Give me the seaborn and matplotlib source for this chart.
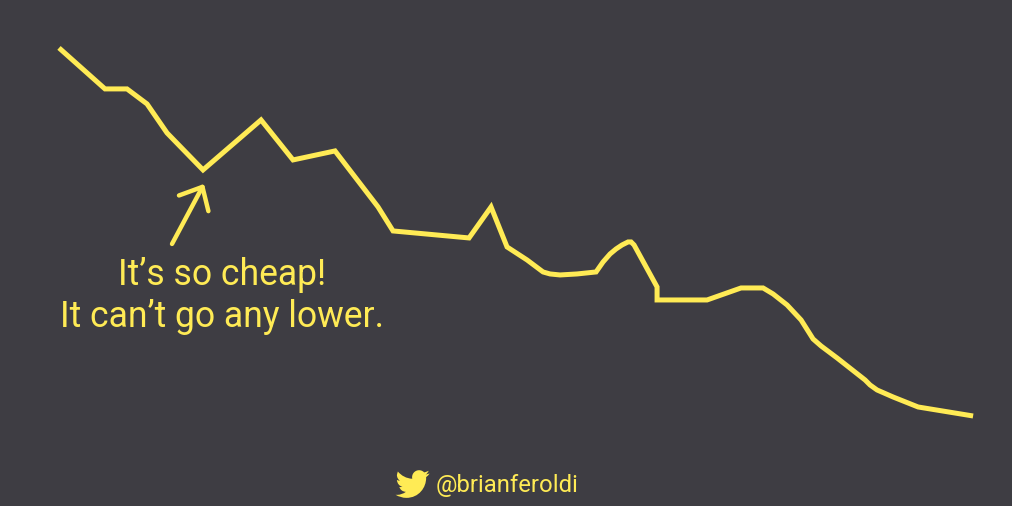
import matplotlib
matplotlib.use('Agg')
import matplotlib.pyplot as plt
from matplotlib.patches import PathPatch
from matplotlib.path import Path
import numpy as np
import pandas as pd
import seaborn as sns

# Values
day = [59, 105, 127, 147, 167, 203, 261, 293, 335, 378, 393, 469, 491, 507, 527,
       543, 550, 560, 577, 596, 603, 610, 616, 622, 628, 631, 634, 657, 657, 707,
       741, 763, 773, 787, 801, 813, 821, 837, 865, 870, 877, 893, 918, 973]
price = [48, 89, 89, 104, 133, 170, 120, 160, 151, 207, 231, 238, 207, 247, 260,
         272, 274, 275, 274, 272, 262, 254, 249, 245, 242, 242, 245, 287, 300, 300,
         288, 288, 294, 305, 320, 339, 346, 358, 380, 385, 390, 397, 407, 416]

BG = '#3e3d43'
YELLOW = '#ffeb55'

sns.set_theme(style='dark')
plt.rcParams['font.family'] = ['Roboto', 'DejaVu Sans']

df = pd.DataFrame({'day': day, 'price': price})

fig = plt.figure(figsize=(10.121, 5.061), dpi=100, facecolor=BG)
ax = fig.add_axes([0, 0, 1, 1])
ax.set_facecolor(BG)

sns.lineplot(data=df, x='day', y='price', sort=False, estimator=None, color=YELLOW,
             linewidth=3.6, solid_joinstyle='miter', solid_capstyle='butt', ax=ax)

ax.set_xlim(0, 1012)
ax.set_ylim(506, 0)
ax.axis('off')

# Arrow to the first dip
ax.annotate('', xy=(204, 184), xytext=(172, 244),
            arrowprops=dict(arrowstyle='->,head_length=1.34,head_width=1.2', color=YELLOW,
                            lw=3.2, mutation_scale=10, shrinkA=0, shrinkB=0))

ax.text(222, 275, 'It’s so cheap!', color=YELLOW, fontsize=25.6, ha='center', va='center')
ax.text(222, 317, 'It can’t go any lower.', color=YELLOW, fontsize=25.6, ha='center', va='center')
ax.text(436, 485, '@brianferoldi', color=YELLOW, fontsize=17.2, ha='left', va='center')

# Twitter bird, outline in a 24 unit box
M, L, C3, C4 = Path.MOVETO, Path.LINETO, Path.CURVE3, Path.CURVE4
bird = [((23.953, 4.57), M), ((21.128, 5.345), L),
        ((22.8, 4.4), C3), ((23.291, 2.622), C3),
        ((22.34, 3.177), C4), ((21.286, 3.581), C4), ((20.164, 3.806), C4)]
for a in np.radians(np.linspace(-43, -193, 16)[1:]):
    bird.append(((16.57 + 4.92 * np.cos(a), 7.17 + 4.92 * np.sin(a)), L))
bird += [((7.69, 8.095), C4), ((4.067, 6.13), C4), ((1.64, 3.162), C4),
         ((1.2, 4.3), C3), ((0.974, 5.637), C3),
         ((0.974, 7.347), C4), ((1.844, 8.85), C4), ((3.162, 9.733), C4),
         ((2, 9.65), C3), ((0.934, 9.117), C3), ((0.934, 9.177), L),
         ((1.4, 13.0), C3), ((4.88, 14.004), C3),
         ((3.75, 14.25), C3), ((2.668, 14.089), C3),
         ((3.8, 17.3), C3), ((7.272, 17.506), C3),
         ((4.6, 19.6), C3), ((1.17, 19.611), C3),
         ((0.78, 19.611), C4), ((0.391, 19.588), C4), ((0, 19.544), C4),
         ((3.5, 21.75), C3), ((7.557, 21.753), C3),
         ((16.61, 21.753), C4), ((21.555, 14.257), C4), ((21.555, 7.768), C4),
         ((21.555, 7.558), C4), ((21.555, 7.348), C4), ((21.54, 7.138), C4),
         ((23, 6.1), C3), ((24, 4.59), C3), ((23.953, 4.57), L)]
verts = np.array([p for p, _ in bird]) * 1.42 + [395.5, 467]
ax.add_patch(PathPatch(Path(verts, [c for _, c in bird]), facecolor=YELLOW, edgecolor='none'))

fig.savefig('out.png', dpi=100, facecolor=BG)
